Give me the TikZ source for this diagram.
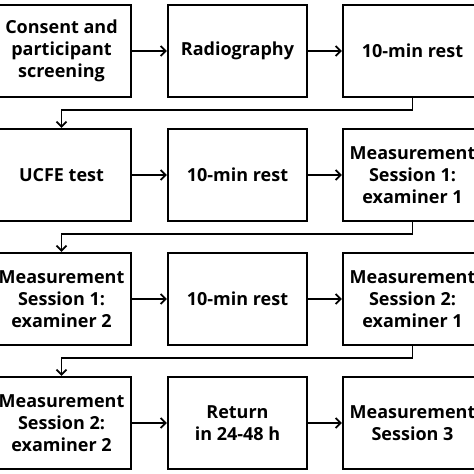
\documentclass[tikz,border=0pt]{standalone}
\usepackage{fontspec}
\setmainfont{Open Sans}
\usetikzlibrary{arrows.meta}

\begin{document}
\begin{tikzpicture}[x=1pt, y=-1pt,
    box/.style={draw, line width=2.2pt, minimum width=139pt, minimum height=92pt, inner sep=0pt, align=center, font=\fontsize{18}{22}\selectfont\bfseries},
    arr/.style={line width=1.8pt, -{Straight Barb[length=5pt, width=10pt]}}]
    \useasboundingbox (0,0) rectangle (474,474);
    \node(consent)[box] at (61.5, 51) {Consent and\\participant\\screening};
    \node(radio)[box] at (237.5, 51) {Radiography};
    \node(restA)[box] at (412.5, 51) {10-min rest};
    \node(ucfe)[box] at (61.5, 175) {UCFE test};
    \node(restB)[box] at (237.5, 175) {10-min rest};
    \node(m11)[box] at (412.5, 175) {Measurement\\Session 1:\\examiner 1};
    \node(m12)[box] at (61.5, 299) {Measurement\\Session 1:\\examiner 2};
    \node(restC)[box] at (237.5, 299) {10-min rest};
    \node(m21)[box] at (412.5, 299) {Measurement\\Session 2:\\examiner 1};
    \node(m22)[box] at (61.5, 423) {Measurement\\Session 2:\\examiner 2};
    \node(ret)[box] at (237.5, 423) {Return\\in 24-48 h};
    \node(m3)[box] at (412.5, 423) {Measurement\\Session 3};
    \draw[arr] (consent) -- (radio);
    \draw[arr] (radio) -- (restA);
    \draw[arr] (restA.south) -- ++(0,12) -| (ucfe.north);
    \draw[arr] (ucfe) -- (restB);
    \draw[arr] (restB) -- (m11);
    \draw[arr] (m11.south) -- ++(0,12) -| (m12.north);
    \draw[arr] (m12) -- (restC);
    \draw[arr] (restC) -- (m21);
    \draw[arr] (m21.south) -- ++(0,12) -| (m22.north);
    \draw[arr] (m22) -- (ret);
    \draw[arr] (ret) -- (m3);
\end{tikzpicture}
\end{document}
